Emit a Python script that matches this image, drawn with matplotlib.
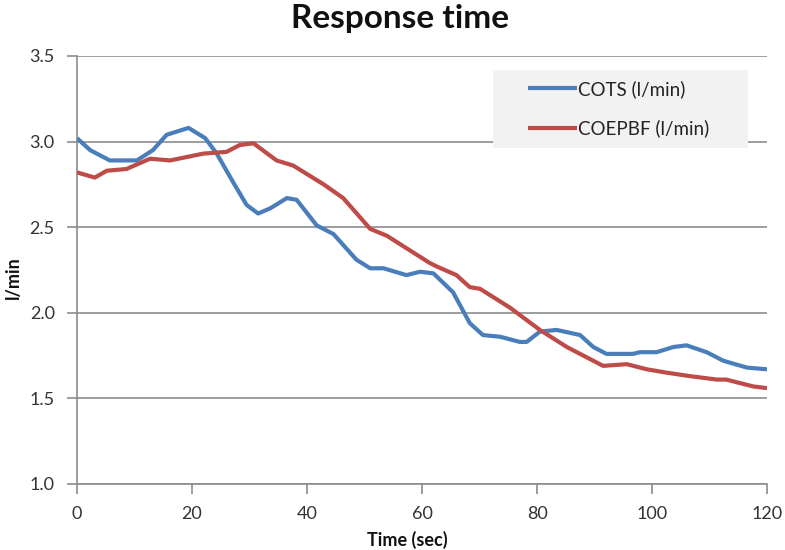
import matplotlib
matplotlib.use("Agg")
import matplotlib.pyplot as plt
from matplotlib.patches import Rectangle

# Data
cots_t = [0, 2.3, 5.7, 10.4, 13.2, 15.6, 19.4, 22.3, 24.3, 27.2, 29.5, 31.5, 33.6, 36.5, 38.2,
          41.7, 44.6, 48.6, 51, 53.3, 57.3, 59.7, 62, 65.4, 68.3, 70.6, 73.6, 77, 78.2,
          80.5, 83.4, 87.5, 89.8, 92.1, 96.7, 97.9, 100.8, 103.7, 106, 109.5, 112.4, 116.5, 120]
cots_v = [3.02, 2.95, 2.89, 2.89, 2.95, 3.04, 3.08, 3.02, 2.93, 2.76, 2.63, 2.58, 2.61, 2.67, 2.66,
          2.51, 2.46, 2.31, 2.26, 2.26, 2.22, 2.24, 2.23, 2.12, 1.94, 1.87, 1.86, 1.83, 1.83,
          1.89, 1.90, 1.87, 1.80, 1.76, 1.76, 1.77, 1.77, 1.80, 1.81, 1.77, 1.72, 1.68, 1.67]

coep_t = [0, 3.1, 5.2, 8.6, 12.7, 16.2, 22, 26, 28.3, 30.7, 34.7, 37.6, 42.9, 46.3, 51, 53.9,
          56.7, 61.4, 62.6, 66, 68.3, 70.1, 75.3, 80.5, 85.2, 91.5, 95.6, 99.1, 102.6, 106.6,
          111.3, 112.9, 117.6, 120]
coep_v = [2.82, 2.79, 2.83, 2.84, 2.90, 2.89, 2.93, 2.94, 2.98, 2.99, 2.89, 2.86, 2.75, 2.67, 2.49, 2.45,
          2.39, 2.29, 2.27, 2.22, 2.15, 2.14, 2.03, 1.90, 1.80, 1.69, 1.70, 1.67, 1.65, 1.63,
          1.61, 1.61, 1.57, 1.56]

labels = ["COTS (l/min)", "COEPBF (l/min)"]
x_ticks = [0, 20, 40, 60, 80, 100, 120]
y_ticks = [1.0, 1.5, 2.0, 2.5, 3.0, 3.5]

plt.rcParams['font.family'] = ['Lato', 'DejaVu Sans']

W, H = 785, 550
AX_L, AX_R, AX_T, AX_B = 77, 767, 56, 484
fig = plt.figure(figsize=(W/100, H/100), dpi=100)
ax = fig.add_axes([AX_L/W, 1-AX_B/H, (AX_R-AX_L)/W, (AX_B-AX_T)/H])

def ax_xy(px, py):
    return ((px-AX_L)/(AX_R-AX_L), (AX_B-py)/(AX_B-AX_T))

ax.plot(cots_t, cots_v, color='#4a7ebb', lw=3, label=labels[0], zorder=3,
        solid_joinstyle='round', solid_capstyle='butt')
ax.plot(coep_t, coep_v, color='#be4b48', lw=3, label=labels[1], zorder=3,
        solid_joinstyle='round', solid_capstyle='butt')

ax.set_xlim(0, 120)
ax.set_ylim(1.0, 3.5)
ax.set_xticks(x_ticks)
ax.set_yticks(y_ticks)
ax.set_yticklabels([f"{v:.1f}" for v in y_ticks])
ax.yaxis.grid(True, color='#8c8c8c', lw=1.2, zorder=1)
ax.set_axisbelow(True)
for s in ['top', 'right']:
    ax.spines[s].set_visible(False)
for s in ['left', 'bottom']:
    ax.spines[s].set_color('#8c8c8c')
    ax.spines[s].set_linewidth(1.2)
ax.tick_params(axis='both', colors='#8c8c8c', length=7, width=1.2, labelsize=13,
               labelcolor='#333333', direction='out')
ax.tick_params(axis='x', pad=9)
ax.tick_params(axis='y', pad=9)

fig.text(400/W, 1-28/H, "Response time", fontsize=24, fontweight='bold', color='#111111',
         ha='center', va='baseline')
fig.text(407/W, 1-540/H, "Time (sec)", fontsize=13, fontweight='bold', color='#111111',
         ha='center', va='center')
fig.text(13/W, 1-278/H, "l/min", fontsize=13, fontweight='bold', color='#111111',
         ha='center', va='center', rotation=90)

# legend box
x0, y0 = ax_xy(493, 148)
x1, y1 = ax_xy(748, 70)
ax.add_patch(Rectangle((x0, y0), x1-x0, y1-y0, transform=ax.transAxes,
                       facecolor='#f2f2f2', edgecolor='none', zorder=2))
lx, ly = ax_xy(514, 66)
leg = ax.legend(loc='upper left', bbox_to_anchor=(lx, ly), fontsize=13.5, frameon=False,
                handlelength=2.6, borderpad=0.75, labelspacing=1.15, handletextpad=0.05,
                borderaxespad=0)
leg.set_zorder(4)
for t in leg.get_texts():
    t.set_color('#222222')

fig.savefig("out.png", dpi=100)
